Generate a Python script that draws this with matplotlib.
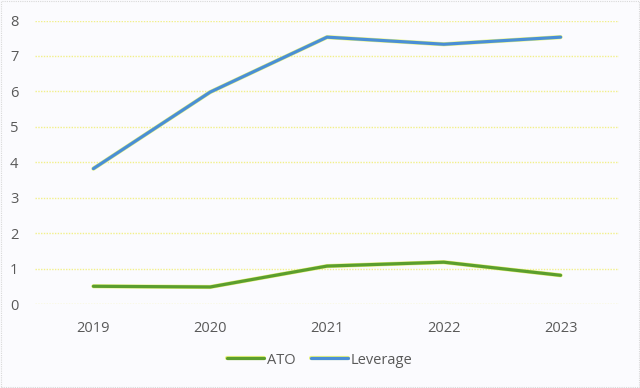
import matplotlib
matplotlib.use("Agg")
import matplotlib.pyplot as plt
import matplotlib.patheffects as pe
from matplotlib.patches import Rectangle

plt.rcParams["font.family"] = "Open Sans"

years = ["2019", "2020", "2021", "2022", "2023"]
ato = [0.50, 0.48, 1.07, 1.18, 0.81]
leverage = [3.82, 5.98, 7.53, 7.33, 7.53]

bg = "#fbfbfe"
fig = plt.figure(figsize=(6.4, 3.88), dpi=100, facecolor=bg)
ax = fig.add_axes([35/640, 1 - 304/388, 584/640, 283.5/388], facecolor=bg)

x = range(len(years))
halo = [pe.Stroke(linewidth=3.0, foreground="#e6f27a"), pe.Normal()]
ax.plot(x, ato, color="#5b9e2e", lw=2.3, label="ATO",
        solid_capstyle="round", path_effects=halo, zorder=3)
ax.plot(x, leverage, color="#4a8fd6", lw=2.3, label="Leverage",
        solid_capstyle="round", path_effects=halo, zorder=3)

ax.set_xlim(-0.5, len(years) - 0.5)
ax.set_ylim(0, 8)
ax.set_yticks(range(0, 9))
ax.set_xticks(list(x))
ax.set_xticklabels(years)
ax.grid(axis="y", color="#f2f08a", lw=1.0, ls=(0, (1, 1)))
ax.set_axisbelow(True)
for s in ax.spines.values():
    s.set_visible(False)
ax.tick_params(length=0, colors="#595959", labelsize=10.5)
ax.tick_params(axis="x", pad=12)
ax.tick_params(axis="y", pad=12)

leg = fig.legend(loc="center", bbox_to_anchor=(0.5, 1 - 360/388), ncol=2,
                 frameon=False, fontsize=10.5, handlelength=2.5,
                 handletextpad=0.2, columnspacing=1.1)
for t in leg.get_texts():
    t.set_color("#595959")

fig.patches.append(Rectangle((0.002, 0.003), 0.996, 0.994, transform=fig.transFigure,
                             fill=False, ec="#d9d9d9", lw=0.8, ls=(0, (1, 1))))

fig.savefig("out.png", dpi=100, facecolor=bg)
